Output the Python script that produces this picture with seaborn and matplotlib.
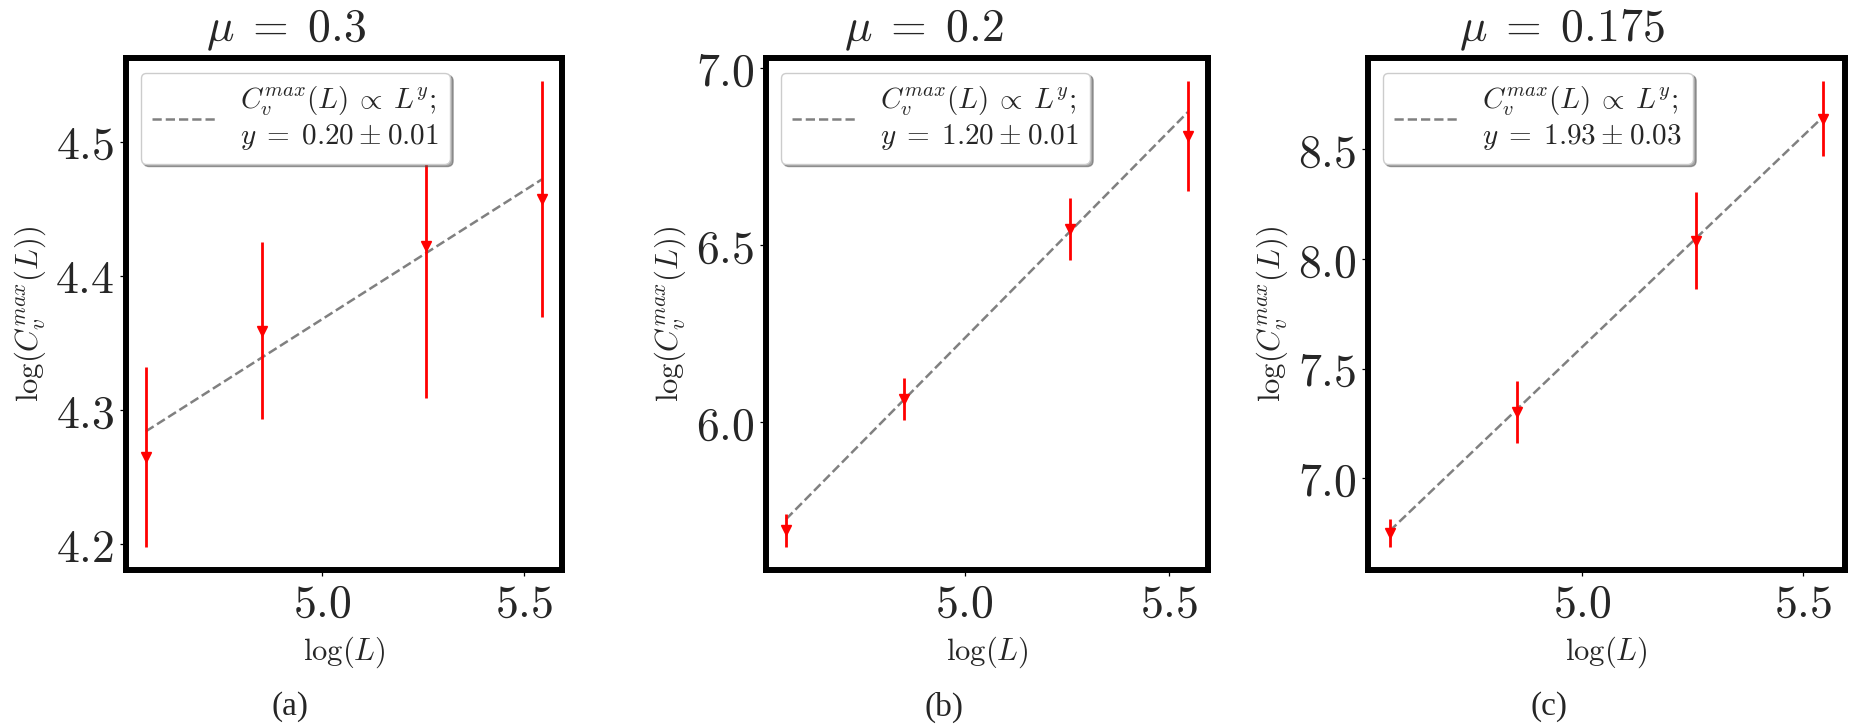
import numpy as np
import pandas as pd
import matplotlib
matplotlib.use("Agg")
import matplotlib.pyplot as plt
import seaborn as sns
from matplotlib.ticker import MultipleLocator, FuncFormatter

# ---------------- data ----------------
log_L = [4.564, 4.852, 5.257, 5.545]

mu_values = ["0.3", "0.2", "0.175"]
panel_tags = ["(a)", "(b)", "(c)"]

cv_a = [4.265, 4.359, 4.422, 4.457]
err_a = [0.067, 0.066, 0.113, 0.088]
fit_a = [4.284, 4.472]

cv_b = [5.693, 6.065, 6.546, 6.808]
err_b = [0.046, 0.060, 0.087, 0.155]
fit_b = [5.725, 6.876]

cv_c = [6.751, 7.303, 8.083, 8.641]
err_c = [0.063, 0.143, 0.221, 0.170]
fit_c = [6.760, 8.650]

exponents = ["0.20", "1.20", "1.93"]
exp_errors = ["0.01", "0.01", "0.03"]
y_steps = [0.1, 0.5, 0.5]

# ---------------- style ----------------
sns.set_theme(style="white")
plt.rcParams.update({
    "mathtext.fontset": "cm",
    "font.family": ["DejaVu Sans"],
})

W, H = 1851, 724
fig = plt.figure(figsize=(W / 100, H / 100), dpi=100)

boxes = [(126, 562), (766, 1208), (1368, 1845)]
top_px, bot_px = 58, 570
title_x = [286, 924, 1562]
tag_x = [290, 944, 1549]

series = [(cv_a, err_a, fit_a), (cv_b, err_b, fit_b), (cv_c, err_c, fit_c)]

fmt = FuncFormatter(lambda v, p: r"$%.1f$" % v)

for i, ((l, r), (cv, err, fit)) in enumerate(zip(boxes, series)):
    ax = fig.add_axes([l / W, (H - bot_px) / H, (r - l) / W, (bot_px - top_px) / H])

    fit_df = pd.DataFrame({"x": [log_L[0], log_L[-1]], "y": fit})
    label = (r"$C_v^{max}(L)\:\propto\:L^y;$" + "\n" +
             r"$y\;=\;%s\:\pm\:%s$" % (exponents[i], exp_errors[i]))
    sns.lineplot(data=fit_df, x="x", y="y", ax=ax, color="#808080",
                 linestyle="--", linewidth=1.8, label=label, zorder=2)

    ax.errorbar(log_L, cv, yerr=err, fmt="v", color="red", ecolor="red",
                markersize=7, elinewidth=2.0, capsize=0, zorder=3)

    ax.xaxis.set_major_locator(MultipleLocator(0.5))
    ax.yaxis.set_major_locator(MultipleLocator(y_steps[i]))
    ax.xaxis.set_major_formatter(fmt)
    ax.yaxis.set_major_formatter(fmt)

    ax.tick_params(axis="both", which="both", bottom=True, left=True,
                   top=False, right=False, direction="out", length=4.3,
                   width=0.9, color="black", labelsize=33, pad=4)
    for s in ax.spines.values():
        s.set_visible(True)
        s.set_color("black")
        s.set_linewidth(4.3)

    ax.set_xlabel(r"$\log(L)$", fontsize=22, va="center")
    ax.xaxis.set_label_coords(0.5, -(652 - bot_px) / (bot_px - top_px))
    ax.set_ylabel(r"$\log(C_v^{max}(L))$", fontsize=22, va="center")
    ax.yaxis.set_label_coords(-96 / (r - l), 0.5)

    leg = ax.legend(loc="upper left", fontsize=21, fancybox=True, shadow=True,
                    framealpha=1, edgecolor="0.8", handlelength=2.2,
                    labelspacing=0.3)
    leg.set_zorder(5)

    fig.text(title_x[i] / W, 1 - 30 / H, r"$\mu\;=\;%s$" % mu_values[i],
             ha="center", va="center", fontsize=33)
    fig.text(tag_x[i] / W, 1 - 707 / H, panel_tags[i], ha="center",
             va="center", fontsize=24, family=["Liberation Serif", "DejaVu Serif"])

fig.savefig("out.png", dpi=100, facecolor="white")
